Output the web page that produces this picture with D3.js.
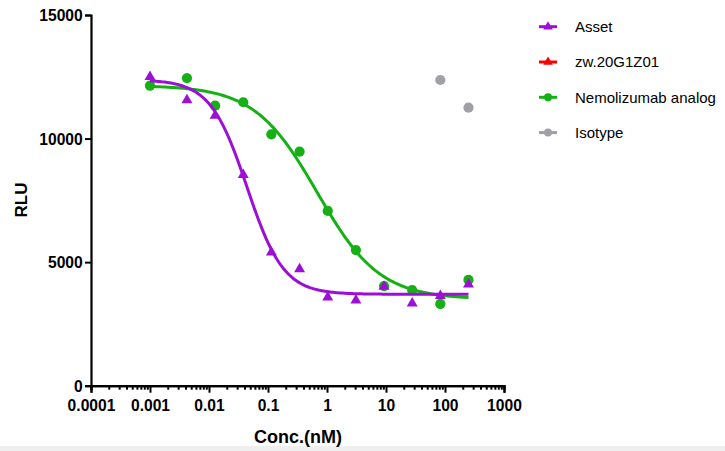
<!DOCTYPE html>
<html>
<head>
<meta charset="utf-8">
<script src="https://cdn.jsdelivr.net/npm/d3@7"></script>
<style>
  body { margin: 0; background: #fff; }
  svg { display: block; font-family: "Liberation Sans", Arial, sans-serif; }
</style>
</head>
<body>
<script>
// concentrations (nM), 3-fold dilution from 250, lowest point shown at 0.001
const conc = [0.001, 0.00423, 0.0127, 0.0381, 0.114, 0.343, 1.03, 3.09, 9.26, 27.8, 83.3, 250];

// RLU readings
const assetRLU = [12500, 11560, 10930, 8530, 5400, 4720, 3580, 3450, 4010, 3330, 3640, 4100];
const nemoRLU  = [12140, 12450, 11330, 11470, 10170, 9470, 7070, 5490, 4030, 3870, 3310, 4280];
const isoConc  = [83.3, 250];
const isoRLU   = [12370, 11250];

// 4PL fit parameters estimated from the drawn curves: [top, bottom, EC50, hill]
const assetFit = [12380, 3700, 0.044, 1.4];
const nemoFit  = [12150, 3500, 0.68, 0.82];

const xTicks = [0.0001, 0.001, 0.01, 0.1, 1, 10, 100, 1000];
const xTickLabels = ["0.0001", "0.001", "0.01", "0.1", "1", "10", "100", "1000"];
const yTicks = [0, 5000, 10000, 15000];

const legendNames = ["Asset", "zw.20G1Z01", "Nemolizumab analog", "Isotype"];
const legendColors = ["#9d0fd6", "#ff0000", "#14b014", "#a0a0a6"];
const legendShapes = ["tri", "tri", "circle", "circle"];

const W = 725, H = 451;
const svg = d3.select("body").append("svg").attr("width", W).attr("height", H);

svg.append("rect").attr("x", 0).attr("y", 446).attr("width", W).attr("height", 5).attr("fill", "#efefef");

const x = d3.scaleLog().domain([0.0001, 1000]).range([91, 504]);
const y = d3.scaleLinear().domain([0, 15000]).range([385.7, 15]);

// minor ticks 2..9 in every decade
const minor = [];
for (let d = -4; d < 3; d++) {
  for (let k = 2; k <= 9; k++) minor.push(k * Math.pow(10, d));
}

const xAxisG = svg.append("g").attr("transform", "translate(0,385.7)");
xAxisG.call(d3.axisBottom(x).tickValues(minor).tickSize(4).tickFormat(""));
xAxisG.append("g").call(d3.axisBottom(x).tickValues(xTicks).tickSize(7).tickPadding(6)
  .tickFormat((d, i) => xTickLabels[i]));

const yAxisG = svg.append("g").attr("transform", "translate(91,0)")
  .call(d3.axisLeft(y).tickValues(yTicks).tickSize(6).tickPadding(3).tickFormat(d => d));

svg.selectAll(".domain").attr("stroke", "#000").attr("stroke-width", 2.2);
svg.selectAll(".tick line").attr("stroke", "#000").attr("stroke-width", 2);
svg.selectAll(".tick text")
  .attr("fill", "#000")
  .style("font-size", "17px")
  .style("font-weight", "bold")
  .attr("transform", "scale(0.92,1)");

svg.append("text")
  .attr("x", 298).attr("y", 443)
  .attr("text-anchor", "middle")
  .style("font-size", "18px").style("font-weight", "bold")
  .text("Conc.(nM)");

svg.append("text")
  .attr("transform", "translate(27,200) rotate(-90)")
  .attr("text-anchor", "middle")
  .style("font-size", "17px").style("font-weight", "bold")
  .text("RLU");

// fitted curves
function fourPL(p, c) {
  return p[1] + (p[0] - p[1]) / (1 + Math.pow(c / p[2], p[3]));
}
const curveX = d3.range(0, 201).map(i => Math.pow(10, -3 + i * (Math.log10(250) + 3) / 200));
const line = d3.line().x(d => x(d[0])).y(d => y(d[1]));

const triangle = d3.symbol().type(d3.symbolTriangle).size(52);
const circle = d3.symbol().type(d3.symbolCircle).size(82);

// isotype points
svg.append("g").selectAll("path").data(isoConc).join("path")
  .attr("d", circle)
  .attr("transform", (d, i) => `translate(${x(d)},${y(isoRLU[i])})`)
  .attr("fill", legendColors[3]);

// nemolizumab
svg.append("path")
  .attr("d", line(curveX.map(c => [c, fourPL(nemoFit, c)])))
  .attr("fill", "none").attr("stroke", legendColors[2]).attr("stroke-width", 3);
svg.append("g").selectAll("path").data(conc).join("path")
  .attr("d", circle)
  .attr("transform", (d, i) => `translate(${x(d)},${y(nemoRLU[i])})`)
  .attr("fill", legendColors[2]);

// asset
svg.append("path")
  .attr("d", line(curveX.map(c => [c, fourPL(assetFit, c)])))
  .attr("fill", "none").attr("stroke", legendColors[0]).attr("stroke-width", 3);
svg.append("g").selectAll("path").data(conc).join("path")
  .attr("d", triangle)
  .attr("transform", (d, i) => `translate(${x(d)},${y(assetRLU[i])})`)
  .attr("fill", legendColors[0]);

// legend
const leg = svg.append("g").selectAll("g").data(legendNames).join("g")
  .attr("transform", (d, i) => `translate(548,${26.7 + i * 35.3})`);
leg.append("line").attr("x1", -9).attr("x2", 9)
  .attr("stroke", (d, i) => legendColors[i]).attr("stroke-width", 3);
leg.append("path")
  .attr("d", (d, i) => legendShapes[i] === "tri"
    ? d3.symbol().type(d3.symbolTriangle).size(40)()
    : d3.symbol().type(d3.symbolCircle).size(50)())
  .attr("fill", (d, i) => legendColors[i]);
leg.append("text")
  .attr("x", 27).attr("dy", "0.35em")
  .style("font-size", "15px")
  .text(d => d);
</script>
</body>
</html>
